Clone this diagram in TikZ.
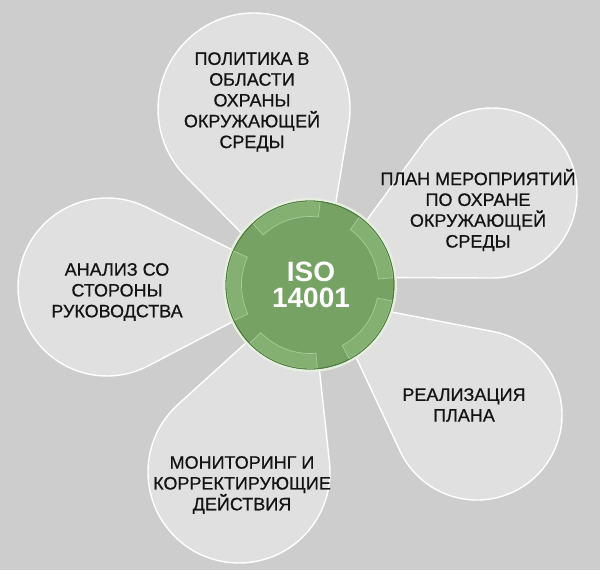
\documentclass[tikz,border=0pt]{standalone}
\usepackage{fontspec}
\setmainfont{Liberation Sans}
\newfontfamily\petalfont[FakeBold=0.7]{Liberation Sans}
\usetikzlibrary{calc}
\definecolor{bggray}{HTML}{CDCDCD}
\definecolor{petalgray}{HTML}{E0E0E0}
\definecolor{isogreen}{HTML}{76A264}
\definecolor{isodark}{HTML}{4F7A40}
\definecolor{isopale}{HTML}{84B072}
\definecolor{isoline}{HTML}{A9CC99}
\definecolor{isoglow}{HTML}{E6EFDF}

\begin{document}
\begin{tikzpicture}[x=0.5mm, y=0.5mm,
	petal/.style={fill=petalgray, draw=white, line width=0.7mm},
	petaltext/.style={align=center, text=black!92, font=\petalfont\fontsize{25.6}{29.6}\selectfont},
	segment/.style={fill=isopale, draw=isoline, line width=0.35mm}]
	
	% 背景
	\fill[bggray] (0,0) rectangle (600,-570);
	
	% 中心和花瓣中心
	\coordinate (center) at (310,-285);
	\coordinate (cTop) at (254,-109);
	\coordinate (cPlan) at (492,-193);
	\coordinate (cReview) at (107,-287);
	\coordinate (cImpl) at (477,-415);
	\coordinate (cMonitor) at (239,-472);
	
	% 花瓣
	\path[petal] (cTop) ++(-9.4:96) arc[start angle=-9.4, end angle=224.6, radius=96] -- ($(cTop)+(287.6:211.5)$) -- cycle;
	\path[petal] (cPlan) ++(-90.2:85) arc[start angle=-90.2, end angle=143.8, radius=85] -- ($(cPlan)+(206.8:187.2)$) -- cycle;
	\path[petal] (cReview) ++(63.6:89) arc[start angle=63.6, end angle=297.6, radius=89] -- ($(cReview)+(0.6:196)$) -- cycle;
	\path[petal] (cImpl) ++(-154.9:85) arc[start angle=-154.9, end angle=79.1, radius=85] -- ($(cImpl)+(142.1:187.2)$) -- cycle;
	\path[petal] (cMonitor) ++(-227.8:91) arc[start angle=-227.8, end angle=6.2, radius=91] -- ($(cMonitor)+(69.2:200.4)$) -- cycle;
	
	% 中心圆
	\fill[isoglow] (center) circle[radius=87];
	\draw[fill=isogreen, draw=isodark, line width=0.4mm] (center) circle[radius=84];
	\path[segment] (center) ++(5:83.5) arc[start angle=5, end angle=54, radius=83.5] -- ++(234:15) arc[start angle=54, end angle=5, radius=68.5] -- cycle;
	\path[segment] (center) ++(83:83.5) arc[start angle=83, end angle=133, radius=83.5] -- ++(313:15) arc[start angle=133, end angle=83, radius=68.5] -- cycle;
	\path[segment] (center) ++(156:83.5) arc[start angle=156, end angle=205, radius=83.5] -- ++(25:15) arc[start angle=205, end angle=156, radius=68.5] -- cycle;
	\path[segment] (center) ++(224:83.5) arc[start angle=224, end angle=275, radius=83.5] -- ++(95:15) arc[start angle=275, end angle=224, radius=68.5] -- cycle;
	\path[segment] (center) ++(298:83.5) arc[start angle=298, end angle=349, radius=83.5] -- ++(169:15) arc[start angle=349, end angle=298, radius=68.5] -- cycle;
	\draw[isodark, line width=0.4mm] (center) circle[radius=84];
	\node[align=center, text=white, font=\bfseries\fontsize{39.8}{37}\selectfont] (iso) at (311,-285) {ISO\\14001};
	
	% 文字
	\node[petaltext] (policy) at (252,-102) {ПОЛИТИКА В\\ОБЛАСТИ\\ОХРАНЫ\\ОКРУЖАЮЩЕЙ\\СРЕДЫ};
	\node[petaltext] (plan) at (478,-210) {ПЛАН МЕРОПРИЯТИЙ\\ПО ОХРАНЕ\\ОКРУЖАЮЩЕЙ\\СРЕДЫ};
	\node[petaltext] (review) at (117,-292) {АНАЛИЗ СО\\СТОРОНЫ\\РУКОВОДСТВА};
	\node[petaltext] (impl) at (464,-405) {РЕАЛИЗАЦИЯ\\ПЛАНА};
	\node[petaltext] (monitor) at (242,-485) {МОНИТОРИНГ И\\КОРРЕКТИРУЮЩИЕ\\ДЕЙСТВИЯ};
	
\end{tikzpicture}
\end{document}
